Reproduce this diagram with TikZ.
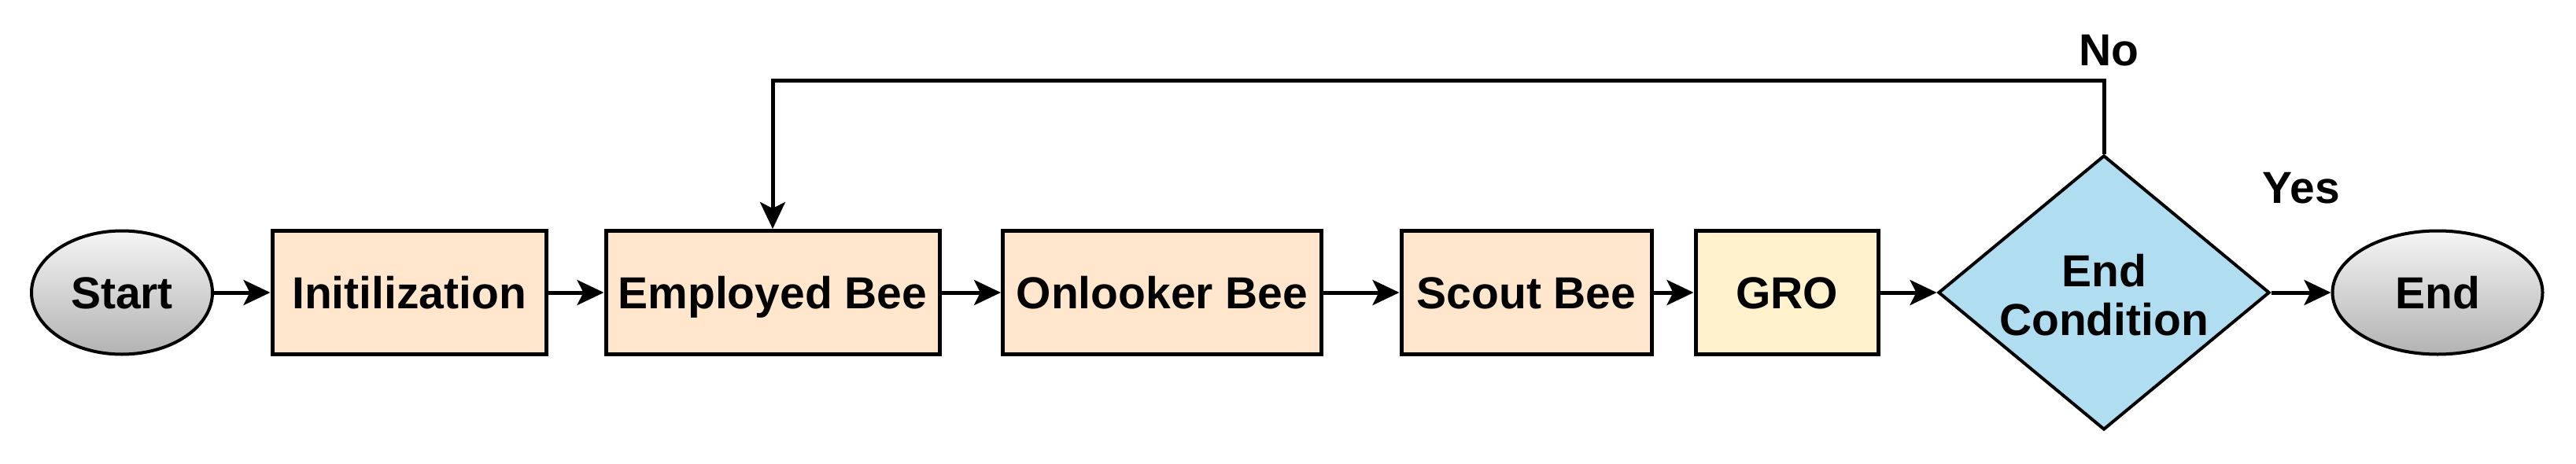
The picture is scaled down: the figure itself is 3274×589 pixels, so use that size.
\documentclass[tikz,border=0pt]{standalone}
\usepackage{fontspec}
\setmainfont{Liberation Sans}
\usetikzlibrary{shapes.geometric,arrows.meta}
\definecolor{boxc}{HTML}{FFE6CC}
\definecolor{groc}{HTML}{FFF2CC}
\definecolor{diac}{HTML}{B1DDF0}
\begin{document}
\begin{tikzpicture}[x=1pt,y=-1pt,
 every node/.style={font=\fontsize{57}{64}\selectfont\bfseries},
 box/.style={draw,line width=5pt,fill=boxc,minimum height=157pt,inner sep=0pt,text height=41pt,text depth=0pt},
 term/.style={draw,ellipse,line width=4pt,top color=gray!8,bottom color=gray!60,inner sep=0pt,text height=41pt,text depth=0pt},
 arr/.style={line width=5pt,-{Stealth[length=34pt,width=32pt,inset=8pt]}}]
\useasboundingbox (0,0) rectangle (3274,589);
\node[term,minimum width=230pt,minimum height=157pt] (s) at (155,372) {Start};
\node[box,minimum width=348pt] (i) at (520,372) {Initilization};
\node[box,minimum width=424pt] (e) at (982,372) {Employed Bee};
\node[box,minimum width=405pt] (o) at (1477,372) {Onlooker Bee};
\node[box,minimum width=318pt] (sc) at (1940,372) {Scout Bee};
\node[box,minimum width=232pt,fill=groc] (g) at (2271,372) {GRO};
\node[draw,diamond,line width=4pt,fill=diac,minimum width=421pt,minimum height=349pt,aspect=1.2,inner sep=0pt] (d) at (2674,372) {};
\node[align=center] (dl) at (2674,375) {End\\[-2pt]Condition};
\node[term,minimum width=267pt,minimum height=157pt] (en) at (3098,372) {End};
\draw[arr] (s) -- (i);
\draw[arr] (i) -- (e);
\draw[arr] (e) -- (o);
\draw[arr] (o) -- (sc);
\draw[arr] (sc) -- (g);
\draw[arr] (g) -- (d.west);
\draw[arr] (d.east) -- (en);
\draw[arr] (d.north) -- (2674,102) -| (e.north);
\node (no) at (2680,64) {No};
\node (yes) at (2925,239) {Yes};
\end{tikzpicture}
\end{document}
